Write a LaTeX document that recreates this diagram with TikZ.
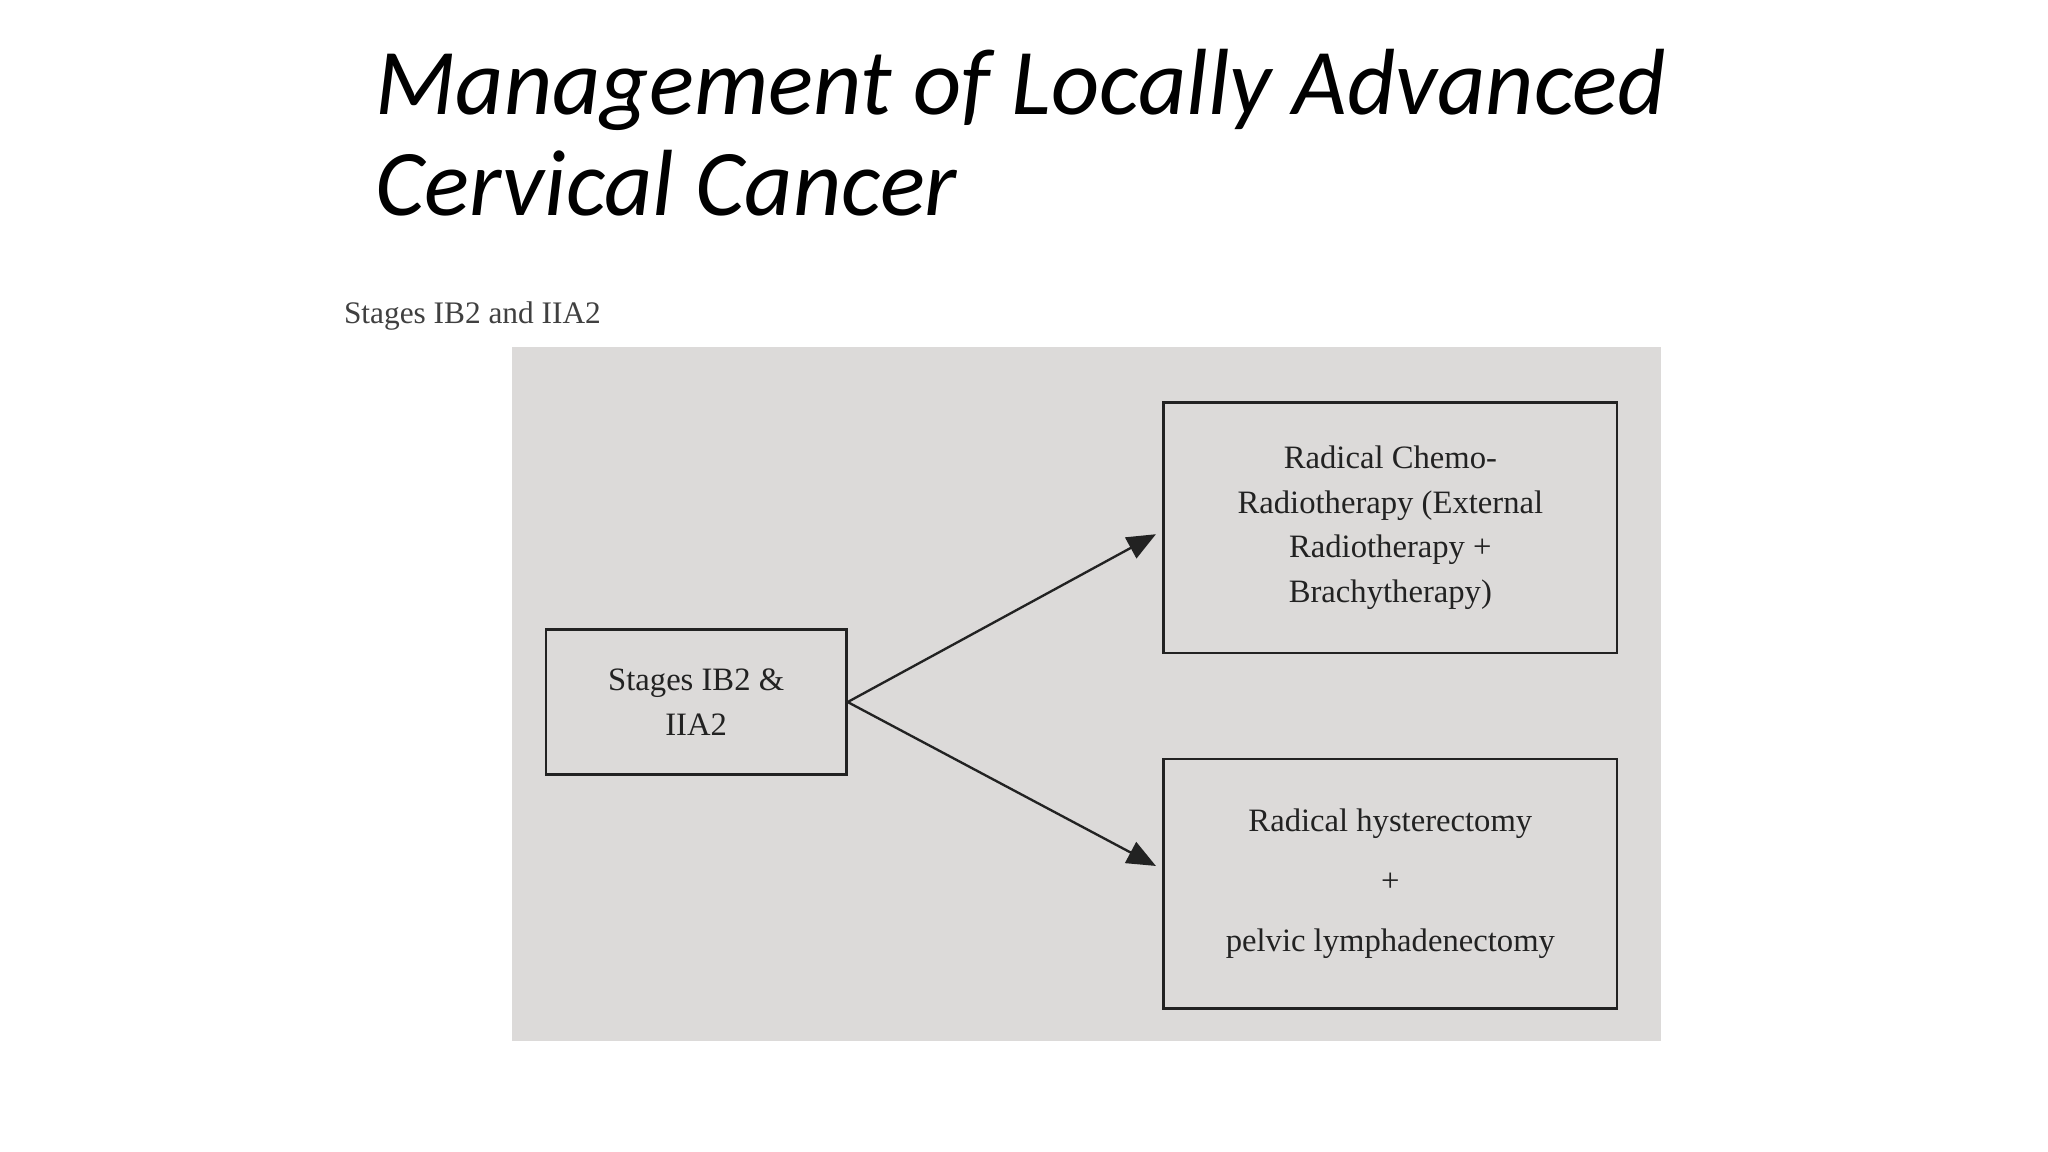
\documentclass[tikz,border=0pt]{standalone}
\usepackage{fontspec}
\setmainfont{Liberation Serif}
\newfontfamily\titlefont{Carlito}
\usetikzlibrary{arrows.meta}
\definecolor{panel}{HTML}{DCDAD9}
\definecolor{ink}{HTML}{222222}
\begin{document}
\begin{tikzpicture}[x=0.5pt,y=-0.5pt,
  box/.style={draw=ink,line width=1pt,fill=panel,anchor=north west,inner sep=0pt,align=center,font=\fontsize{12.5}{17}\selectfont,text=ink},
  arr/.style={draw=ink,line width=0.9pt,-{Triangle[length=11pt,width=9pt]}}]
\useasboundingbox[fill=white] (0,0) rectangle (1568,882);
\node[anchor=base west,font=\titlefont\itshape\fontsize{36}{38.5}\selectfont,inner sep=0pt] (t1) at (287,88) {Management of Locally Advanced};
\node[anchor=base west,font=\titlefont\itshape\fontsize{36}{38.5}\selectfont,inner sep=0pt] (t2) at (287,165) {Cervical Cancer};
\node[anchor=base west,font=\fontsize{12}{14}\selectfont,text=black!75,inner sep=0pt] (cap) at (263,248) {Stages IB2 and IIA2};
\fill[panel] (392,266) rectangle (1272,797);
\node[box,minimum width=115pt,minimum height=55.5pt] (L) at (417,481) {Stages IB2 \&\\IIA2};
\node[box,minimum width=173.5pt,minimum height=96pt] (T) at (890,307) {Radical Chemo-\\Radiotherapy (External\\Radiotherapy +\\Brachytherapy)};
\node[box,minimum width=173.5pt,minimum height=95.5pt,font=\fontsize{12.5}{23}\selectfont] (B) at (890,580) {Radical hysterectomy\\+\\pelvic lymphadenectomy};
\coordinate (te) at (885,409);
\coordinate (be) at (885,663);
\draw[arr] (L.east) -- (te);
\draw[arr] (L.east) -- (be);
\end{tikzpicture}
\end{document}
